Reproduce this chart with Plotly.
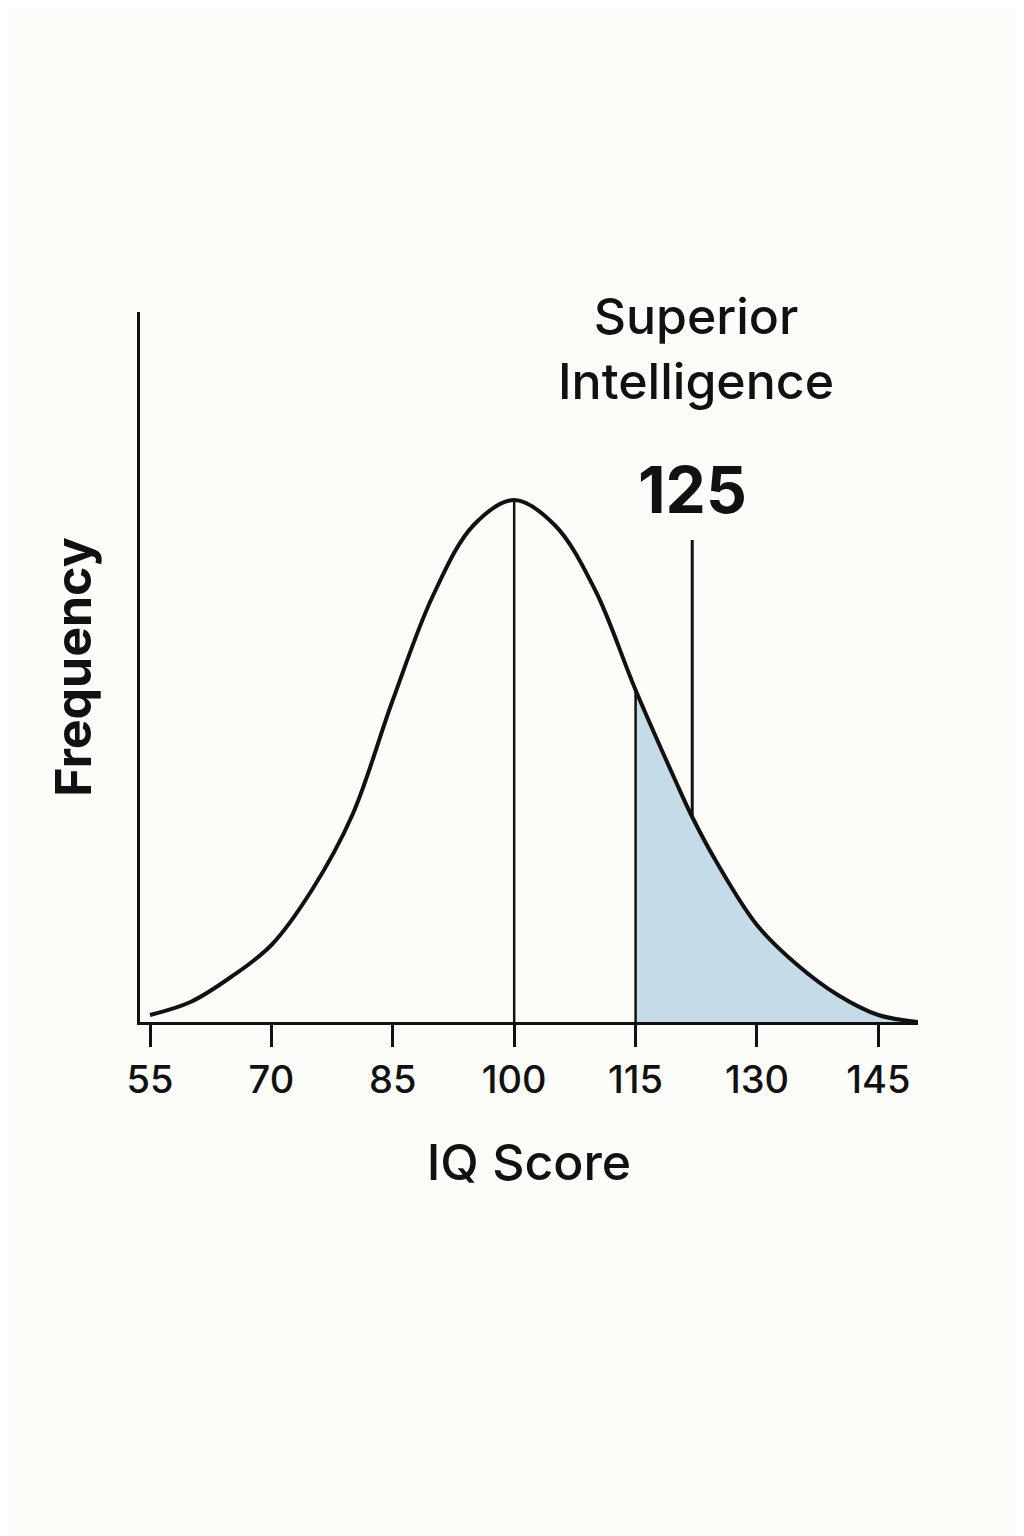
import plotly.graph_objects as go

iq = [55, 60, 65, 70, 75, 80, 85, 90, 95, 100, 105, 110, 115, 120, 122, 125, 130, 135, 140, 145, 150]
freq = [7, 20, 45, 77, 132, 207, 322, 427, 497, 522, 497, 432, 332, 240, 205, 160, 97, 57, 27, 7, 0]
tick_vals = [55, 70, 85, 100, 115, 130, 145]
shade_start = 115
mean_iq = 100
cut_iq = 122
cut_top = 482

font = "Inter, Roboto, sans-serif"
fig = go.Figure()
sx = [x for x in iq if x >= shade_start]
sy = [y for x, y in zip(iq, freq) if x >= shade_start]
fig.add_trace(go.Scatter(x=sx, y=sy, fill="tozeroy", mode="none", fillcolor="#c5dce8", line_shape="spline"))
fig.add_trace(go.Scatter(x=iq, y=freq, mode="lines", line=dict(color="#111", width=4, shape="spline")))
ym = dict(zip(iq, freq))
fig.add_trace(go.Scatter(x=[mean_iq, mean_iq], y=[0, ym[mean_iq]], mode="lines", line=dict(color="#111", width=2.5)))
fig.add_trace(go.Scatter(x=[shade_start, shade_start], y=[0, ym[shade_start]], mode="lines", line=dict(color="#111", width=2.5)))
fig.add_trace(go.Scatter(x=[cut_iq, cut_iq], y=[ym[cut_iq], cut_top], mode="lines", line=dict(color="#111", width=3)))

fig.add_annotation(x=cut_iq, y=cut_top + 10, text="<b>125</b>", showarrow=False, yanchor="bottom",
                   font=dict(family=font, size=64, color="#111"))
fig.add_annotation(x=cut_iq + 0.5, y=1.04, yref="paper", text="Superior<br>Intelligence", showarrow=False,
                   yanchor="top", font=dict(family=font, size=50, color="#111", weight=500))

fig.update_layout(
    width=1024, height=1536, showlegend=False,
    paper_bgcolor="#fcfcf9", plot_bgcolor="#fcfcf9",
    margin=dict(l=132, r=114, t=304, b=522),
    xaxis=dict(range=[53.76, 149.9], tickvals=tick_vals, ticks="outside", ticklen=22, tickwidth=2.5,
               tickcolor="#111", showline=True, linecolor="#111", linewidth=3, showgrid=False, zeroline=False,
               tickfont=dict(family=font, size=38, color="#111", weight=500),
               title=dict(text="IQ Score", font=dict(family=font, size=50, color="#111", weight=500), standoff=45)),
    yaxis=dict(range=[0, 710], showticklabels=False, ticks="", showline=True, linecolor="#111", linewidth=3,
               showgrid=False, zeroline=False,
               title=dict(text="<b>Frequency</b>", font=dict(family=font, size=50, color="#111"), standoff=30)),
)
fig.write_html("out.html")
